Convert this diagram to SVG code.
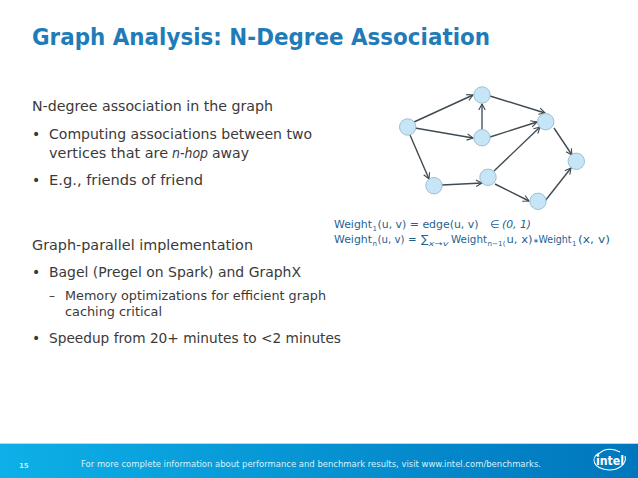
<svg xmlns="http://www.w3.org/2000/svg" width="638" height="478" viewBox="0 0 638 478">
<style>
text{font-family:"DejaVu Sans","Liberation Sans",sans-serif}
.t{font-size:14px;fill:#3a3a3a}
.s{font-size:12px;fill:#3a3a3a}
.w{font-size:11px;fill:#1f5f93}
.sub{font-size:7px;fill:#1f5f93}
.n{fill:#c6e6f8;stroke:#9dbfd2;stroke-width:1}
.e{fill:none;stroke:#3f4a52;stroke-width:1.400;marker-end:url(#a)}
</style>
<defs>
<marker id="a" markerUnits="userSpaceOnUse" markerWidth="10" markerHeight="10" refX="8" refY="5" orient="auto"><path d="M2 1.800L8 5L2 8.200" fill="none" stroke="#3f4a52" stroke-width="1.100"/></marker>
<linearGradient id="g" x1="0" x2="1" y1="0" y2="0"><stop offset="0" stop-color="#0db0e8"/><stop offset="1" stop-color="#0076bd"/></linearGradient>
</defs>
<rect width="638" height="478" fill="#fff"/>
<text x="32" y="45" font-size="23.500" font-weight="700" fill="#1f7cb8" textLength="458" lengthAdjust="spacingAndGlyphs">Graph Analysis: N-Degree Association</text>
<g id="body">
<text class="t" x="32" y="111" textLength="241" lengthAdjust="spacingAndGlyphs">N-degree association in the graph</text>
<text class="t" x="32" y="139">•</text>
<text class="t" x="49" y="139" textLength="263" lengthAdjust="spacingAndGlyphs">Computing associations between two</text>
<text class="t" x="49" y="158" textLength="119" lengthAdjust="spacingAndGlyphs">vertices that are</text>
<text class="t" x="172" y="158" font-style="italic" textLength="36" lengthAdjust="spacingAndGlyphs">n-hop</text>
<text class="t" x="212" y="158" textLength="37" lengthAdjust="spacingAndGlyphs">away</text>
<text class="t" x="32" y="185">•</text>
<text class="t" x="49" y="185" textLength="154" lengthAdjust="spacingAndGlyphs">E.g., friends of friend</text>
<text class="t" x="32" y="250" textLength="221" lengthAdjust="spacingAndGlyphs">Graph-parallel implementation</text>
<text class="t" x="32" y="277">•</text>
<text class="t" x="49" y="277" textLength="252" lengthAdjust="spacingAndGlyphs">Bagel (Pregel on Spark) and GraphX</text>
<text class="s" x="49" y="300">–</text>
<text class="s" x="65" y="300" textLength="261" lengthAdjust="spacingAndGlyphs">Memory optimizations for efficient graph</text>
<text class="s" x="65" y="316" textLength="97" lengthAdjust="spacingAndGlyphs">caching critical</text>
<text class="t" x="32" y="343">•</text>
<text class="t" x="49" y="343" textLength="292" lengthAdjust="spacingAndGlyphs">Speedup from 20+ minutes to &lt;2 minutes</text>
</g>
<g id="connectors">
<path class="e" d="M414 122L473 95"/>
<path class="e" d="M415 128L473 138"/>
<path class="e" d="M410 135L429 179"/>
<path class="e" d="M482 130L482 104" style="stroke:#6f7a82;stroke-width:1.800"/>
<path class="e" d="M490 96L545 113"/>
<path class="e" d="M490 137L537 122"/>
<path class="e" d="M442 185L482 183"/>
<path class="e" d="M494 171L540 127"/>
<path class="e" d="M495 184L529 201"/>
<path class="e" d="M545 201L571 168"/>
<path class="e" d="M554 128L572 155"/>
</g>
<g id="n1"><circle class="n" cx="407.700" cy="127" r="8.200"/></g>
<g id="n2"><circle class="n" cx="482" cy="95" r="8.200"/></g>
<g id="n3"><circle class="n" cx="482" cy="137.700" r="8.200"/></g>
<g id="n4"><circle class="n" cx="545.700" cy="121.700" r="8.200"/></g>
<g id="n5"><circle class="n" cx="576.300" cy="161.300" r="8.200"/></g>
<g id="n6"><circle class="n" cx="434" cy="185.700" r="8.200"/></g>
<g id="n7"><circle class="n" cx="488" cy="177.300" r="8.200"/></g>
<g id="n8"><circle class="n" cx="538" cy="201.300" r="8.200"/></g>
<g id="formula">
<text class="w" x="334" y="228" textLength="38" lengthAdjust="spacingAndGlyphs">Weight</text>
<text class="sub" x="372.500" y="231">1</text>
<text class="w" x="377.500" y="228" textLength="101" lengthAdjust="spacingAndGlyphs">(u, v) = edge(u, v)</text>
<text class="w" x="490" y="228">∈</text>
<text class="w" x="502" y="228" font-style="italic" textLength="29" lengthAdjust="spacingAndGlyphs">(0, 1)</text>
<text class="w" x="334" y="243" textLength="38" lengthAdjust="spacingAndGlyphs">Weight</text>
<text class="sub" x="372.500" y="246">n</text>
<text class="w" x="377.500" y="243" textLength="39" lengthAdjust="spacingAndGlyphs">(u, v) =</text>
<text class="w" x="421" y="243">∑</text>
<text class="sub" x="428.500" y="246" font-style="italic" textLength="20" lengthAdjust="spacingAndGlyphs">x→v</text>
<text class="w" x="451" y="243" textLength="36" lengthAdjust="spacingAndGlyphs">Weight</text>
<text class="sub" x="487.500" y="246" textLength="18" lengthAdjust="spacingAndGlyphs">n−1(</text>
<text class="w" x="506.500" y="243" textLength="26" lengthAdjust="spacingAndGlyphs">u, x)</text>
<text x="533" y="243" font-size="7" fill="#1f5f93">∗</text>
<text class="w" x="538.500" y="243" textLength="33" lengthAdjust="spacingAndGlyphs">Weight</text>
<text class="sub" x="572" y="246">1</text>
<text class="w" x="578" y="243" textLength="32" lengthAdjust="spacingAndGlyphs">(x, v)</text>
</g>
<g id="footer">
<rect y="443" width="638" height="35" fill="url(#g)"/>
<rect y="443" width="638" height="1" fill="#a8def2"/>
<text x="19" y="468" font-size="7" font-weight="700" fill="#bfe8f8">15</text>
<text x="81" y="467" font-size="9" fill="#d8f2fc" textLength="460" lengthAdjust="spacingAndGlyphs">For more complete information about performance and benchmark results, visit www.intel.com/benchmarks.</text>
<g id="logo"><path d="M599 453C590 458 593 469 609 470C620 470 627 463 625 456M620 452C611 447 602 449 597 456" fill="none" stroke="#fff" stroke-width="1.100"/><text x="596" y="465" font-size="12" font-weight="700" fill="#fff" textLength="28" lengthAdjust="spacingAndGlyphs">intel</text></g>
</g>
</svg>
